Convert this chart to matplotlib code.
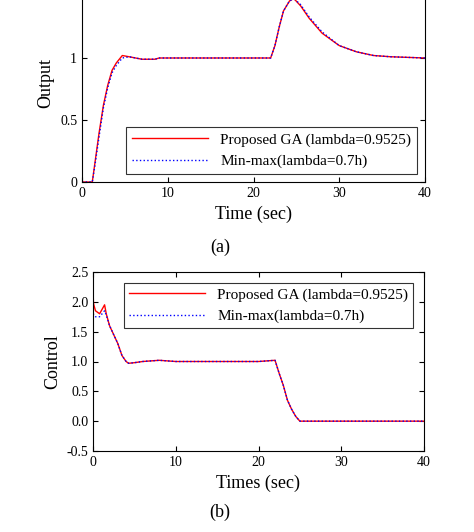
import numpy as np
import matplotlib
matplotlib.use("Agg")
import matplotlib.pyplot as plt

plt.rcParams.update({
    "font.family": "serif",
    "font.serif": ["Liberation Serif", "DejaVu Serif"],
    "font.size": 10,
    "axes.unicode_minus": False,
})

# output response (a)
t_out = [0, 1.2, 1.5, 2, 2.5, 3, 3.5, 4, 4.7, 5.5, 7, 8.5, 9, 22, 22.5, 23, 23.5, 24.2, 24.7,
         25.5, 26.5, 28, 30, 32, 34, 36, 40]
ga_out = [0, 0, 0.15, 0.4, 0.62, 0.78, 0.9, 0.96, 1.02, 1.01, 0.99, 0.99, 1.0, 1.0, 1.1, 1.25,
          1.38, 1.46, 1.48, 1.42, 1.32, 1.2, 1.1, 1.05, 1.02, 1.01, 1.0]
mm_out = [0, 0, 0.13, 0.37, 0.6, 0.76, 0.88, 0.94, 1.0, 1.01, 0.99, 0.99, 1.0, 1.0, 1.1, 1.25,
          1.38, 1.46, 1.48, 1.43, 1.33, 1.21, 1.1, 1.05, 1.02, 1.01, 1.0]

# control signal (b)
t_ctl = [0, 0.05, 0.1, 0.3, 0.8, 1.4, 1.6, 2, 2.5, 3, 3.5, 4, 4.3, 5, 6, 8, 10, 20, 22,
         22.5, 23, 23.5, 24, 24.5, 25, 40]
ga_ctl = [2.25, 2.0, 1.95, 1.85, 1.8, 1.95, 1.8, 1.6, 1.45, 1.3, 1.1, 1.0, 0.97, 0.98, 1.0,
          1.02, 1.0, 1.0, 1.02, 0.8, 0.6, 0.35, 0.2, 0.08, 0.0, 0.0]
mm_ctl = [1.8, 1.8, 1.78, 1.75, 1.75, 1.85, 1.78, 1.6, 1.45, 1.3, 1.1, 1.0, 0.97, 0.98, 1.0,
          1.02, 1.0, 1.0, 1.02, 0.8, 0.6, 0.35, 0.2, 0.08, 0.0, 0.0]

labels = ["Proposed GA (lambda=0.9525)", "Min-max(lambda=0.7h)"]

W, H = 474, 532
fig = plt.figure(figsize=(W / 100, H / 100), dpi=100)

def px_axes(x0, x1, y_top, y_bot):
    return fig.add_axes([x0 / W, 1 - y_bot / H, (x1 - x0) / W, (y_bot - y_top) / H])

# top panel, its upper part runs off the figure
ax1 = px_axes(82, 425, -16.4, 182)
ax1.plot(t_out, ga_out, color="red", lw=1, label=labels[0])
ax1.plot(t_out, mm_out, color="blue", lw=1, ls=":", label=labels[1])
ax1.set_xlim(0, 40)
ax1.set_ylim(0, 1.6)
ax1.set_xticks([0, 10, 20, 30, 40])
ax1.set_yticks([0, 0.5, 1])
ax1.set_yticklabels(["0", "0.5", "1"])
ax1.tick_params(direction="in", labelsize=10, top=True, right=True)
ax1.set_xlabel("Time (sec)", fontsize=13)
ax1.set_ylabel("Output", fontsize=13)
leg1 = ax1.legend(loc="lower right", bbox_to_anchor=(1.0, 0.0), fancybox=False,
                  edgecolor="black", fontsize=11, borderpad=0.4, handlelength=5)
leg1.get_frame().set_linewidth(0.8)
fig.text(220 / W, 1 - 247 / H, "(a)", ha="center", va="center", fontsize=13)

# bottom panel
ax2 = px_axes(93, 424, 272, 451)
ax2.plot(t_ctl, ga_ctl, color="red", lw=1, label=labels[0])
ax2.plot(t_ctl, mm_ctl, color="blue", lw=1, ls=":", label=labels[1])
ax2.set_xlim(0, 40)
ax2.set_ylim(-0.5, 2.5)
ax2.set_xticks([0, 10, 20, 30, 40])
ax2.set_yticks([-0.5, 0, 0.5, 1, 1.5, 2, 2.5])
ax2.tick_params(direction="in", labelsize=10, top=True, right=True)
ax2.set_xlabel("Times (sec)", fontsize=13)
ax2.set_ylabel("Control", fontsize=13)
leg2 = ax2.legend(loc="upper right", bbox_to_anchor=(0.99, 0.98), fancybox=False,
                  edgecolor="black", fontsize=11, borderpad=0.3, handlelength=5)
leg2.get_frame().set_linewidth(0.8)
fig.text(220 / W, 1 - 512 / H, "(b)", ha="center", va="center", fontsize=13)

fig.savefig("out.png", dpi=100)
